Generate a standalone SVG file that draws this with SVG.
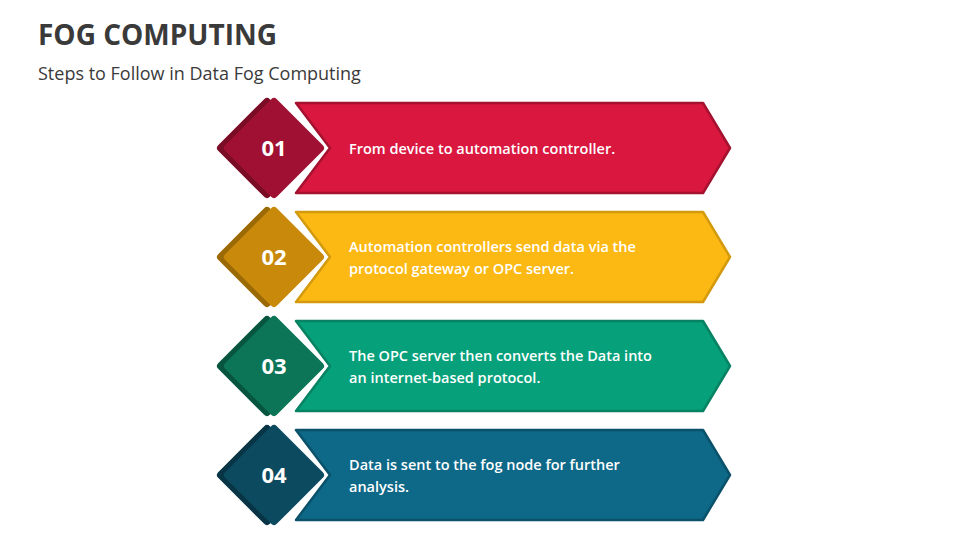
<svg xmlns="http://www.w3.org/2000/svg" width="960" height="540" viewBox="0 0 960 540">
<style>
text{font-family:"Open Sans","Noto Sans","Liberation Sans",sans-serif}
.t{font-size:28px;font-weight:bold;fill:#3a3a3a}
.s{font-size:18px;fill:#3a3a3a}
.n{font-size:22px;font-weight:bold;fill:#fff}
.d{font-size:14.5px;font-weight:600;fill:#fff}
.b{stroke-width:2.5;stroke-linejoin:round}
.dm{stroke-width:8;stroke-linejoin:round}
</style>
<defs>
<path id="ban" d="M296,-45 H703 L730,0 L703,45 H296 L330,0 Z"/>
<path id="dia" d="M0,-46 L46,0 L0,46 L-46,0 Z"/>
</defs>
<rect width="960" height="540" fill="#fff"/>
<text x="38" y="45" class="t">FOG COMPUTING</text>
<text x="38" y="80" class="s">Steps to Follow in Data Fog Computing</text>
<g id="step1" transform="translate(0,148)">
<use href="#ban" class="b" fill="#D9173F" stroke="#A51230"/>
<use href="#dia" class="dm" x="267" fill="#7A0C25" stroke="#7A0C25"/>
<use href="#dia" class="dm" x="274" fill="#A01032" stroke="#A01032"/>
<text x="274" y="8" class="n" text-anchor="middle">01</text>
<text x="349" y="6" class="d">From device to automation controller.</text>
</g>
<g id="step2" transform="translate(0,257)">
<use href="#ban" class="b" fill="#FDB913" stroke="#D39A0E"/>
<use href="#dia" class="dm" x="267" fill="#9C6A05" stroke="#9C6A05"/>
<use href="#dia" class="dm" x="274" fill="#C98A0B" stroke="#C98A0B"/>
<text x="274" y="8" class="n" text-anchor="middle">02</text>
<text x="349" y="-5" class="d">Automation controllers send data via the</text>
<text x="349" y="17" class="d">protocol gateway or OPC server.</text>
</g>
<g id="step3" transform="translate(0,366)">
<use href="#ban" class="b" fill="#06A07A" stroke="#078262"/>
<use href="#dia" class="dm" x="267" fill="#08553F" stroke="#08553F"/>
<use href="#dia" class="dm" x="274" fill="#0C7557" stroke="#0C7557"/>
<text x="274" y="8" class="n" text-anchor="middle">03</text>
<text x="349" y="-5" class="d">The OPC server then converts the Data into</text>
<text x="349" y="17" class="d">an internet-based protocol.</text>
</g>
<g id="step4" transform="translate(0,475)">
<use href="#ban" class="b" fill="#0E6887" stroke="#0A516A"/>
<use href="#dia" class="dm" x="267" fill="#083546" stroke="#083546"/>
<use href="#dia" class="dm" x="274" fill="#0C4A60" stroke="#0C4A60"/>
<text x="274" y="8" class="n" text-anchor="middle">04</text>
<text x="349" y="-5" class="d">Data is sent to the fog node for further</text>
<text x="349" y="17" class="d">analysis.</text>
</g>
<g id="connectors"/>
</svg>
